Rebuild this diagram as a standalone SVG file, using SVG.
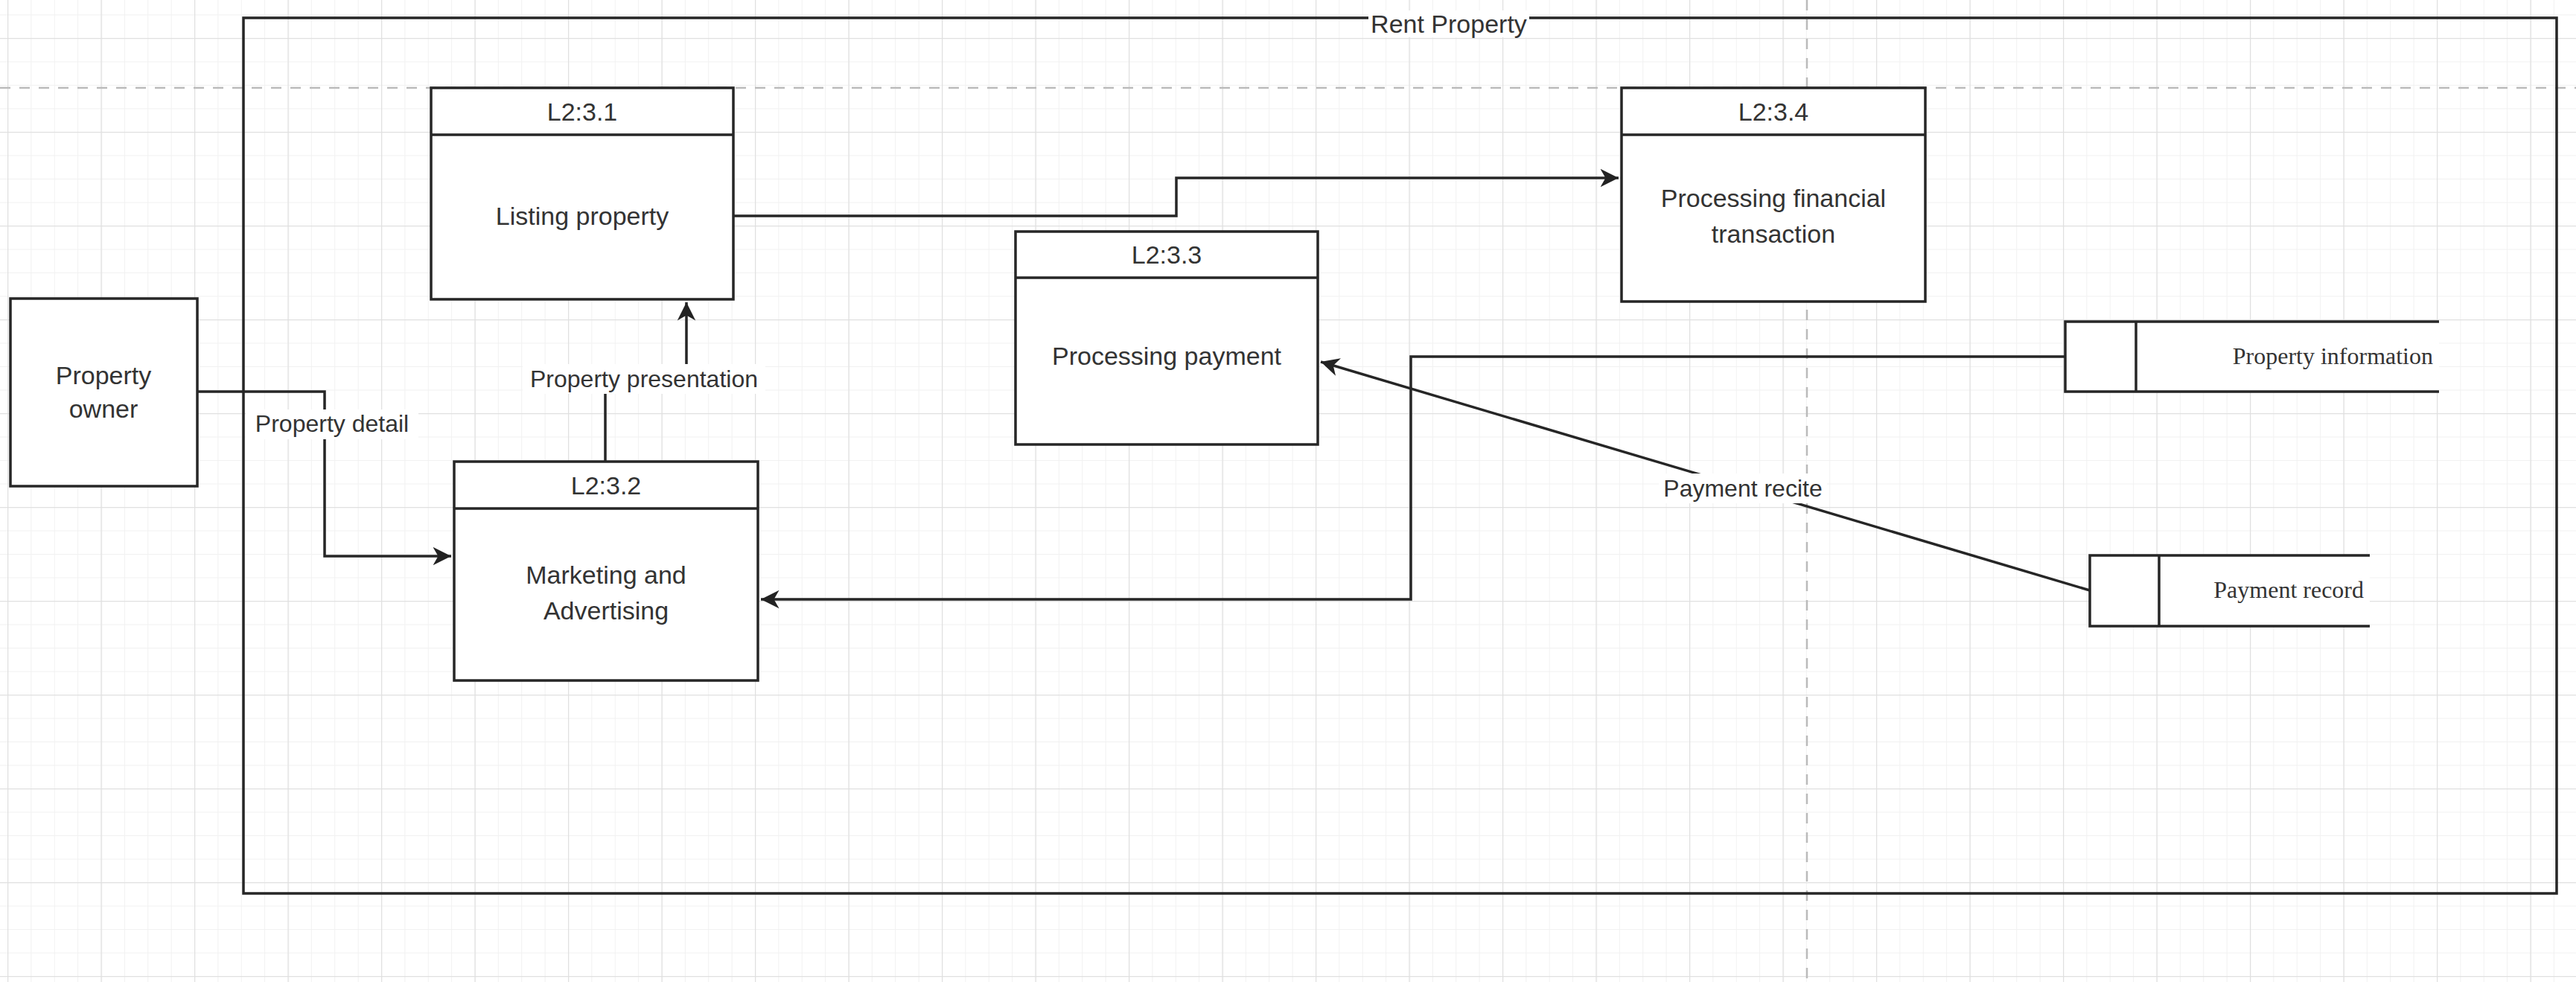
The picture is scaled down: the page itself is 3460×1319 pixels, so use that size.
<svg xmlns="http://www.w3.org/2000/svg" width="3460" height="1319" viewBox="0 0 3460 1319">
<defs>
<pattern id="minor" x="10" y="51" width="31.375" height="31.5" patternUnits="userSpaceOnUse"><path d="M0 0V31.5M0 0H31.375" fill="none" stroke="#f1f1f1" stroke-width="2"/></pattern>
<pattern id="major" x="10" y="51" width="125.5" height="126" patternUnits="userSpaceOnUse"><path d="M0 0V126M0 0H125.5" fill="none" stroke="#e0e0e0" stroke-width="2.5"/></pattern>
<marker id="arr" markerWidth="8" markerHeight="8" refX="7" refY="4" orient="auto" markerUnits="strokeWidth"><path d="M0,0.5 L7,4 L0,7.5 L2,4 Z" fill="#222"/></marker>
</defs>
<style>
.b{fill:#fff;stroke:#262626;stroke-width:3.5}
.l{fill:none;stroke:#262626;stroke-width:3.5}
.t{font-family:"Liberation Sans",Arial,sans-serif;font-size:34px;fill:#333;text-anchor:middle;dominant-baseline:central}
.s{font-family:"Liberation Serif","Times New Roman",serif;font-size:32px;fill:#333;text-anchor:end;dominant-baseline:central}
.e{font-family:"Liberation Sans",Arial,sans-serif;font-size:32px;fill:#333;text-anchor:middle;dominant-baseline:central}
</style>
<rect width="3460" height="1319" fill="#fff"/>
<rect width="3460" height="1319" fill="url(#minor)"/>
<rect width="3460" height="1319" fill="url(#major)"/>
<path d="M0 118H3460M2427 0V1319" stroke="#bbb" stroke-width="2.5" stroke-dasharray="14 12"/>
<g id="rent-property">
<rect x="327" y="24" width="3107" height="1176" fill="none" stroke="#262626" stroke-width="3.5"/>
<rect x="1838" y="14" width="216" height="36" fill="#fff"/>
<text class="t" x="1946" y="32" font-size="32">Rent Property</text>
</g>
<g id="property-owner">
<rect class="b" x="14" y="401" width="251" height="252"/>
<text class="t" x="139" y="504">Property</text>
<text class="t" x="139" y="549">owner</text>
</g>
<g id="p31">
<rect class="b" x="579" y="118" width="406" height="284"/>
<path class="l" d="M579 181H985"/>
<text class="t" x="782" y="150">L2:3.1</text>
<text class="t" x="782" y="290">Listing property</text>
</g>
<g id="p32">
<rect class="b" x="610" y="620" width="408" height="294"/>
<path class="l" d="M610 683H1018"/>
<text class="t" x="814" y="652">L2:3.2</text>
<text class="t" x="814" y="772">Marketing and</text>
<text class="t" x="814" y="820">Advertising</text>
</g>
<g id="p33">
<rect class="b" x="1364" y="311" width="406" height="286"/>
<path class="l" d="M1364 373H1770"/>
<text class="t" x="1567" y="342">L2:3.3</text>
<text class="t" x="1567" y="478">Processing payment</text>
</g>
<g id="p34">
<rect class="b" x="2178" y="118" width="408" height="287"/>
<path class="l" d="M2178 181H2586"/>
<text class="t" x="2382" y="150">L2:3.4</text>
<text class="t" x="2382" y="266">Processing financial</text>
<text class="t" x="2382" y="314">transaction</text>
</g>
<g id="store-property-information">
<rect x="2774" y="432" width="502" height="94" fill="#fff"/>
<path class="l" d="M3276 432H2774V526H3276M2869 432V526"/>
<text class="s" x="3268" y="478">Property information</text>
</g>
<g id="store-payment-record">
<rect x="2807" y="746" width="376" height="95" fill="#fff"/>
<path class="l" d="M3183 746H2807V841H3183M2900 746V841"/>
<text class="s" x="3175" y="792">Payment record</text>
</g>
<g id="connectors">
<path class="l" d="M265 526H436V747H606" marker-end="url(#arr)"/>
<rect x="330" y="550" width="232" height="40" fill="#fff"/>
<text class="e" x="446" y="569">Property detail</text>
<path class="l" d="M813 620V509H922V406" marker-end="url(#arr)"/>
<rect x="702" y="489" width="326" height="40" fill="#fff"/>
<text class="e" x="865" y="509">Property presentation</text>
<path class="l" d="M985 290H1580V239H2174" marker-end="url(#arr)"/>
<path class="l" d="M2774 479H1895V805H1022" marker-end="url(#arr)"/>
<path class="l" d="M2807 793L1774 486" marker-end="url(#arr)"/>
<rect x="2228" y="636" width="226" height="40" fill="#fff"/>
<text class="e" x="2341" y="656">Payment recite</text>
</g>
</svg>
